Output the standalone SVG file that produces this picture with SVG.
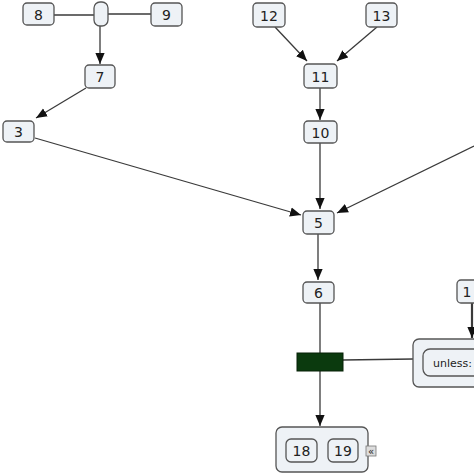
<svg xmlns="http://www.w3.org/2000/svg" width="474" height="474" viewBox="0 0 474 474">
<defs>
<style>
.n rect{fill:#eef2f6;stroke:#555;stroke-width:1.3}
.n text{font-family:"DejaVu Sans",Verdana,sans-serif;font-size:14px;fill:#222;text-anchor:middle}
.c line{stroke:#3a3a3a;stroke-width:1.3}
.a{marker-end:url(#ah)}
</style>
<marker id="ah" viewBox="0 0 10 10" refX="10" refY="5" markerWidth="11" markerHeight="11" markerUnits="userSpaceOnUse" orient="auto">
<path d="M0,0.8 L10,5 L0,9.2 z" fill="#111"/>
</marker>
</defs>
<rect width="474" height="474" fill="#fff"/>
<g id="connectors" class="c">
<line x1="54" y1="15" x2="94" y2="15"/>
<line x1="108" y1="14" x2="151" y2="14"/>
<line class="a" x1="100" y1="26" x2="100" y2="64"/>
<line class="a" x1="86" y1="88" x2="36" y2="118"/>
<line class="a" x1="275" y1="27" x2="307" y2="61"/>
<line class="a" x1="377" y1="27" x2="337" y2="61"/>
<line class="a" x1="320" y1="88" x2="320" y2="120"/>
<line class="a" x1="320" y1="143" x2="320" y2="209"/>
<line class="a" x1="35" y1="138" x2="301" y2="215"/>
<line class="a" x1="474" y1="146" x2="337" y2="213"/>
<line class="a" x1="318" y1="234" x2="318" y2="280"/>
<line x1="320" y1="303" x2="320" y2="353"/>
<line x1="343" y1="360" x2="413" y2="359"/>
<line class="a" x1="320" y1="371" x2="320" y2="426"/>
<line class="a" x1="472" y1="303" x2="472" y2="338" style="stroke-width:2.2"/>
</g>
<g id="node8" class="n"><rect x="23" y="3" width="31" height="22" rx="4"/><text x="38.5" y="19.5">8</text></g>
<g id="junction" class="n"><rect x="94" y="2" width="14" height="24" rx="6"/></g>
<g id="node9" class="n"><rect x="151" y="3" width="31" height="23" rx="4"/><text x="166.5" y="20">9</text></g>
<g id="node7" class="n"><rect x="85" y="65" width="30" height="23" rx="4"/><text x="100" y="81.5">7</text></g>
<g id="node3" class="n"><rect x="3" y="121" width="31" height="21" rx="4"/><text x="18.5" y="136.5">3</text></g>
<g id="node12" class="n"><rect x="253" y="3" width="32" height="24" rx="4"/><text x="269" y="20.5">12</text></g>
<g id="node13" class="n"><rect x="366" y="3" width="31" height="24" rx="4"/><text x="381.5" y="20.5">13</text></g>
<g id="node11" class="n"><rect x="304" y="64" width="33" height="24" rx="4"/><text x="320.5" y="81.5">11</text></g>
<g id="node10" class="n"><rect x="304" y="121" width="33" height="22" rx="4"/><text x="320.5" y="137.5">10</text></g>
<g id="node5" class="n"><rect x="303" y="211" width="31" height="23" rx="4"/><text x="318.5" y="228">5</text></g>
<g id="node6" class="n"><rect x="303" y="282" width="31" height="21" rx="4"/><text x="318.5" y="298">6</text></g>
<g id="bar"><rect x="297" y="353" width="46" height="18" fill="#0b3a0e" stroke="#062006" stroke-width="1"/></g>
<g id="node1" class="n"><rect x="457" y="280" width="30" height="23" rx="4"/><text x="467" y="297">1</text></g>
<g id="unless" class="n"><rect x="413" y="339" width="80" height="48" rx="6"/><rect x="423" y="349" width="70" height="27" rx="7"/><text x="433" y="367" style="font-size:11px;text-anchor:start">unless:</text></g>
<g id="group1819" class="n"><rect x="276" y="427" width="92" height="45" rx="6"/>
<rect x="286" y="439" width="31" height="23" rx="5"/><text x="301.5" y="456">18</text>
<rect x="328" y="439" width="30" height="23" rx="5"/><text x="343" y="456">19</text>
<rect x="366" y="446" width="10" height="10" style="fill:#ddd;stroke:#777;stroke-width:0.8" rx="0"/><text x="371" y="454.5" style="font-size:10px">«</text></g>
</svg>
